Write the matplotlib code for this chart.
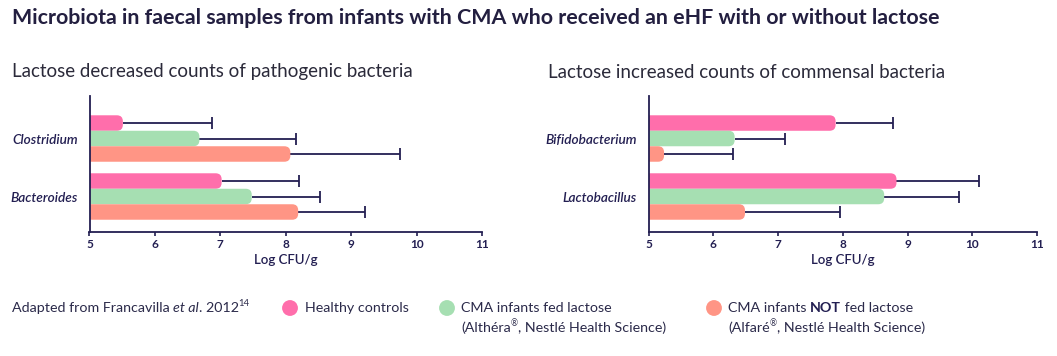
import matplotlib
matplotlib.use("Agg")
import matplotlib.pyplot as plt
from matplotlib.patches import FancyBboxPatch
import numpy as np

plt.rcParams['font.family'] = ['Lato', 'DejaVu Sans']

NAVY = "#231f52"
TEXT = "#2b2a4a"
COLORS = ["#ff6eab", "#a6dfb2", "#ff9585"]
SERIES = ["Healthy controls", "CMA infants fed lactose", "CMA infants NOT fed lactose"]

# Left panel
left_title = "Lactose decreased counts of pathogenic bacteria"
left_cats = ["Clostridium", "Bacteroides"]
left_vals = {
    "Healthy controls": [5.51, 7.02],
    "CMA infants fed lactose": [6.68, 7.48],
    "CMA infants NOT fed lactose": [8.07, 8.19],
}
left_err_end = {
    "Healthy controls": [6.88, 8.21],
    "CMA infants fed lactose": [8.16, 8.53],
    "CMA infants NOT fed lactose": [9.75, 9.21],
}

# Right panel
right_title = "Lactose increased counts of commensal bacteria"
right_cats = ["Bifidobacterium", "Lactobacillus"]
right_vals = {
    "Healthy controls": [7.89, 8.83],
    "CMA infants fed lactose": [6.33, 8.64],
    "CMA infants NOT fed lactose": [5.24, 6.49],
}
right_err_end = {
    "Healthy controls": [8.77, 10.11],
    "CMA infants fed lactose": [7.11, 9.79],
    "CMA infants NOT fed lactose": [6.30, 7.96],
}

xticks = [5, 6, 7, 8, 9, 10, 11]
xlabel = "Log CFU/g"

W, H = 1057, 356
fig = plt.figure(figsize=(W / 100, H / 100), dpi=100)

def panel(rect_px, cats, vals, errs):
    l, r, t, b = rect_px
    ax = fig.add_axes([l / W, 1 - b / H, (r - l) / W, (b - t) / H])
    ax.set_xlim(5, 11)
    ax.set_ylim(1.612, -0.733)
    pxx = (r - l) / 6.0
    pxy = (b - t) / (1.612 + 0.733)
    aspect = pxx / pxy
    bh = 0.267
    rad_px = 6.0
    rx = rad_px / pxx
    for si, s in enumerate(SERIES):
        for ci in range(len(cats)):
            yc = ci + (si - 1) * bh
            v = vals[s][ci]
            e = errs[s][ci]
            ax.plot([v, e], [yc, yc], color=NAVY, lw=1.3, zorder=2,
                    solid_capstyle="butt")
            ax.plot([e], [yc], marker="|", markersize=8, markeredgewidth=1.3,
                    color=NAVY, zorder=2, linestyle="none")
            x0 = 4.7
            p = FancyBboxPatch((x0, yc - bh / 2), v - x0, bh,
                               boxstyle=f"round,pad=0,rounding_size={rx}",
                               mutation_aspect=aspect,
                               facecolor=COLORS[si], edgecolor="none",
                               zorder=3, clip_on=True)
            ax.add_patch(p)
    for sp in ["top", "right"]:
        ax.spines[sp].set_visible(False)
    for sp in ["left", "bottom"]:
        ax.spines[sp].set_color(NAVY)
        ax.spines[sp].set_linewidth(1.3)
        ax.spines[sp].set_zorder(4)
    ax.set_xticks(xticks)
    ax.set_xticklabels([str(t) for t in xticks], fontsize=8.5,
                       fontweight="bold", color=NAVY)
    ax.tick_params(axis="x", length=3, width=1.2, color=NAVY, pad=2)
    ax.set_yticks(range(len(cats)))
    ax.set_yticklabels(cats, fontsize=9.8, fontstyle="italic",
                       fontweight="semibold", color=NAVY)
    ax.tick_params(axis="y", length=0, pad=8.5)
    ax.set_xlabel(xlabel, fontsize=9.5, fontweight="semibold", color=NAVY,
                  labelpad=3)
    return ax

panel((89.5, 482, 96, 232), left_cats, left_vals, left_err_end)
panel((648.5, 1037, 96, 232), right_cats, right_vals, right_err_end)

fig.text(12 / W, 1 - 18 / H,
         "Microbiota in faecal samples from infants with CMA who received an eHF with or without lactose",
         fontsize=15.4, fontweight="bold", color="#231f40", va="center", ha="left")
fig.text(12 / W, 1 - 72 / H, left_title, fontsize=13.5, color="#2b2a3a",
         va="center", ha="left")
fig.text(548 / W, 1 - 72 / H, right_title, fontsize=13.5, color="#2b2a3a",
         va="center", ha="left")

# Footer
fig.canvas.draw()
rend = fig.canvas.get_renderer()

def seq_text(x_px, y_px, parts):
    x = x_px
    for txt, kw in parts:
        kw = dict(kw)
        kw.setdefault("color", TEXT)
        t = fig.text(x / W, 1 - y_px / H, txt, va="center", ha="left", **kw)
        bb = t.get_window_extent(renderer=rend)
        x += bb.width
    return x

fs = 10.3
xs = seq_text(12, 308, [("Adapted from Francavilla ", dict(fontsize=fs)),
                        ("et al", dict(fontsize=fs, fontstyle="italic")),
                        (". 2012", dict(fontsize=fs))])
fig.text((xs - 1) / W, 1 - 304 / H, "14", fontsize=6.8, color=TEXT, va="center", ha="left")

lax = fig.add_axes([0, 0, 1, 1], zorder=-1)
lax.set_xlim(0, W)
lax.set_ylim(H, 0)
lax.axis("off")
leg_x = [290, 447, 714]
txt_x = [305, 461, 728]
for i in range(3):
    lax.scatter([leg_x[i]], [308], s=130, color=COLORS[i], edgecolors="none")

seq_text(txt_x[0], 308, [("Healthy controls", dict(fontsize=fs))])
seq_text(txt_x[1], 308, [("CMA infants fed lactose", dict(fontsize=fs))])
xa = seq_text(txt_x[1], 328, [("(Althéra", dict(fontsize=fs))])
xa = seq_text(xa, 324, [("®", dict(fontsize=6.2))])
seq_text(xa, 328, [(", Nestlé Health Science)", dict(fontsize=fs))])

seq_text(txt_x[2], 308, [("CMA infants ", dict(fontsize=fs)),
                         ("NOT", dict(fontsize=fs, fontweight="bold", color=NAVY)),
                         (" fed lactose", dict(fontsize=fs))])
xb = seq_text(txt_x[2], 328, [("(Alfaré", dict(fontsize=fs))])
xb = seq_text(xb, 324, [("®", dict(fontsize=6.2))])
seq_text(xb, 328, [(", Nestlé Health Science)", dict(fontsize=fs))])

fig.savefig("out.png", dpi=100, facecolor="white")
